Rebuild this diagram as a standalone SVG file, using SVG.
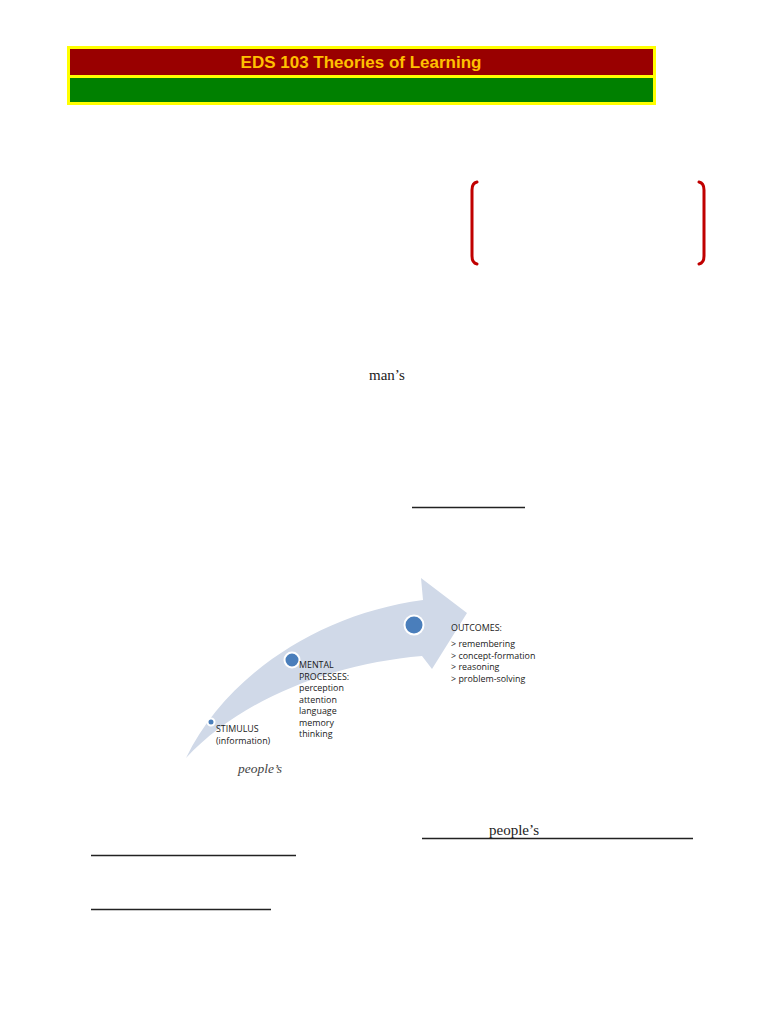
<svg xmlns="http://www.w3.org/2000/svg" width="768" height="1024" viewBox="0 0 768 1024">
<style>
.serif{font-family:"Liberation Serif","Times New Roman",serif;fill:#222}
.lbl{font-family:"Open Sans","Liberation Sans",sans-serif;font-size:8.9px;fill:#1a1a1a}
.rule{stroke:#222;stroke-width:1.3}
.brk{fill:none;stroke:#C00000;stroke-width:3;stroke-linecap:round}
.dot{fill:#4A7EBB;stroke:#fff;stroke-width:2}
</style>
<rect width="768" height="1024" fill="#fff"/>
<g id="header">
<rect x="67" y="46" width="589" height="59" fill="#FFFF00"/>
<rect x="70" y="49" width="583" height="26" fill="#990000"/>
<rect x="70" y="78" width="583" height="24" fill="#008000"/>
<text x="361" y="67.5" text-anchor="middle" font-family="Liberation Sans,Arial,sans-serif" font-weight="bold" font-size="17" fill="#FFC000">EDS 103 Theories of Learning</text>
</g>
<g id="brackets">
<path class="brk" d="M477,182 Q472,183 472,190 L472,256 Q472,263 477,264"/>
<path class="brk" d="M699,182 Q704,183 704,190 L704,256 Q704,263 699,264"/>
</g>
<text class="serif" x="369" y="380" font-size="15">man’s</text>
<line class="rule" x1="412" y1="507.5" x2="525" y2="507.5"/>
<g id="arrow">
<path d="M186,758 C226,676 318,614 423,600 L421,578 L467,613 L432,669 L422,656 C330,664 240,700 186,758 Z" fill="#D0D9E8"/>
</g>
<g id="stimulus">
<circle class="dot" cx="211" cy="722" r="3.5" stroke-width="1.5"/>
<text class="lbl"><tspan x="216" y="732">STIMULUS</tspan><tspan x="216" y="743.5">(information)</tspan></text>
</g>
<g id="mental">
<circle class="dot" cx="292" cy="660" r="7.5"/>
<text class="lbl"><tspan x="299" y="668">MENTAL</tspan><tspan x="299" y="679.5">PROCESSES:</tspan><tspan x="299" y="691">perception</tspan><tspan x="299" y="702.5">attention</tspan><tspan x="299" y="714">language</tspan><tspan x="299" y="725.5">memory</tspan><tspan x="299" y="737">thinking</tspan></text>
</g>
<g id="outcomes">
<circle class="dot" cx="414" cy="625" r="9.5"/>
<text class="lbl"><tspan x="451" y="631">OUTCOMES:</tspan><tspan x="451" y="647">&gt; remembering</tspan><tspan x="451" y="658.5">&gt; concept-formation</tspan><tspan x="451" y="670">&gt; reasoning</tspan><tspan x="451" y="681.5">&gt; problem-solving</tspan></text>
</g>
<text class="serif" x="238" y="773" font-size="13.5" font-style="italic" style="fill:#444">people’s</text>
<text class="serif" x="489" y="835" font-size="15">people’s</text>
<line class="rule" x1="422" y1="838.5" x2="693" y2="838.5"/>
<line class="rule" x1="91" y1="855.5" x2="296" y2="855.5"/>
<line class="rule" x1="91" y1="909.5" x2="271" y2="909.5"/>
</svg>
